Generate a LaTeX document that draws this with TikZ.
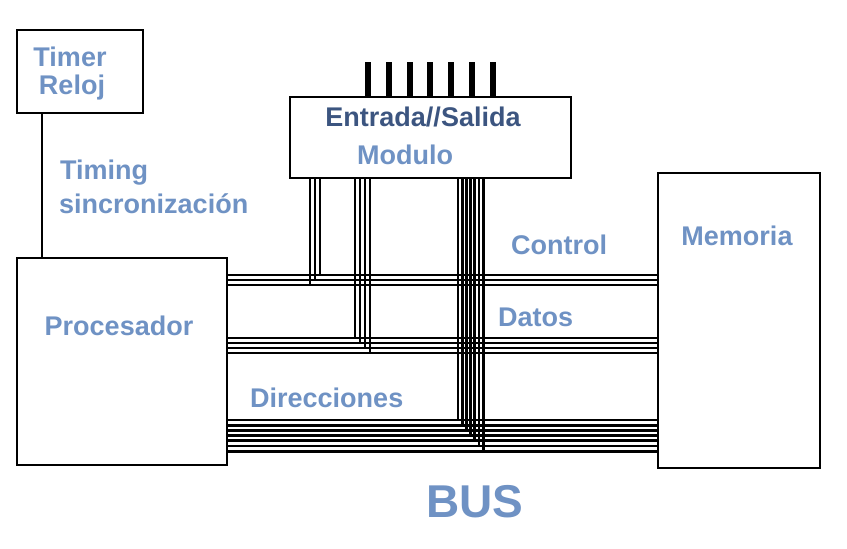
\documentclass[tikz,border=0pt]{standalone}
\usepackage{fontspec}
\setmainfont{Liberation Sans}
\begin{document}
\begin{tikzpicture}[x=1pt,y=-1pt,
  box/.style={draw,line width=2.2pt},
  wire/.style={line width=2.8pt},
  lbl/.style={font=\bfseries\fontsize{27}{28}\selectfont,text=lblue,inner sep=0},
]
\definecolor{lblue}{HTML}{6F92C4}
\definecolor{dblue}{HTML}{3C5580}
\useasboundingbox[fill=white] (0,0) rectangle (847,549);
% boxes
\draw[box] (17,30) rectangle (143,113);
\draw[box] (17,258) rectangle (227,465);
\draw[box] (658,173) rectangle (820,468);
\draw[box] (290,97) rectangle (571,178);
\coordinate (t) at (42,113); \coordinate (p) at (42,258);
\draw[line width=2.2pt] (t) -- (p);
% pins
\foreach \i in {0,...,6} \draw[line width=6pt] (368+\i*20.8,62) -- (368+\i*20.8,97);
% control
\foreach \i in {0,1,2} {
  \draw[wire] (227,275+\i*5) -- (658,275+\i*5);
  \draw[wire] (310+\i*5,178) -- (310+\i*5,285-\i*5);
}
% data
\foreach \i in {0,...,3} {
  \draw[wire] (227,338+\i*5) -- (658,338+\i*5);
  \draw[wire] (355+\i*5,178) -- (355+\i*5,338+\i*5);
}
% address
\foreach \i in {0,...,6} {
  \draw[wire] (227,420+\i*5.2) -- (658,420+\i*5.2);
  \draw[wire] (458+\i*4.2,178) -- (458+\i*4.2,420+\i*5.2);
}
% text
\node[lbl] (a) at (70,57) {Timer};
\node[lbl] (b) at (72,88) {Reloj};
\node[lbl,anchor=west] (c) at (60,173) {Timing};
\node[lbl,anchor=west] (d) at (59,204) {sincronización};
\node[lbl] (e) at (119,326) {Procesador};
\node[lbl] (f) at (737,236) {Memoria};
\node[lbl,anchor=west] (g) at (511,245) {Control};
\node[lbl,anchor=west] (h) at (498,317) {Datos};
\node[lbl,anchor=west] (i) at (250,398) {Direcciones};
\node[lbl,text=dblue] (j) at (423,117) {Entrada//Salida};
\node[lbl] (k) at (405,155) {Modulo};
\node[lbl,font=\bfseries\fontsize{46}{48}\selectfont] (l) at (475,502) {BUS};
\end{tikzpicture}
\end{document}
